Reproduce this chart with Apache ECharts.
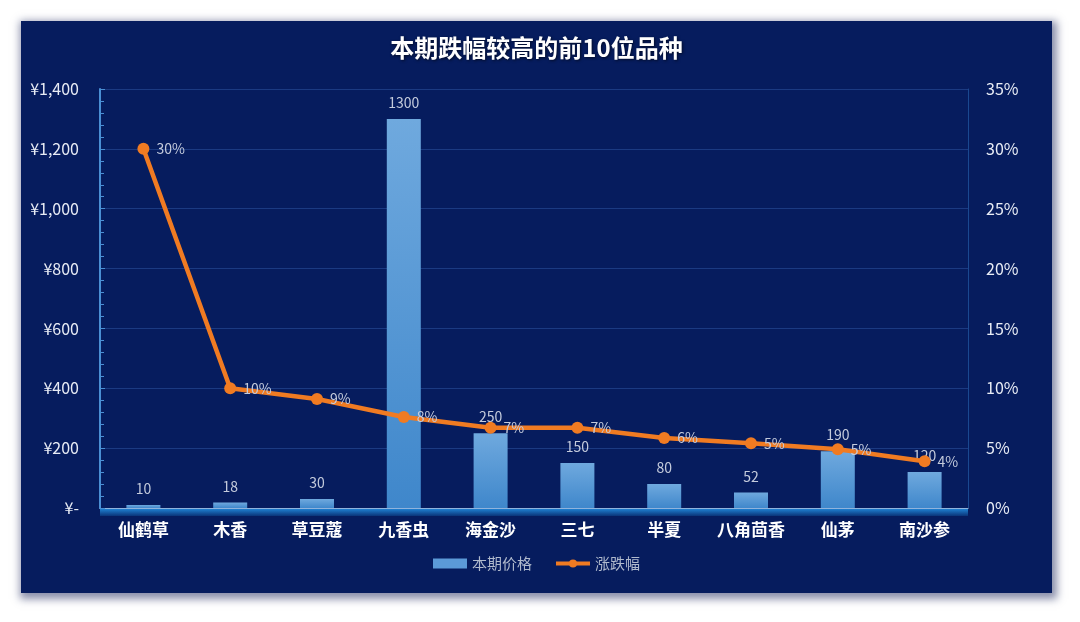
<!DOCTYPE html>
<html lang="zh">
<head>
<meta charset="utf-8">
<title>本期跌幅较高的前10位品种</title>
<script src="https://cdn.jsdelivr.net/npm/echarts@6/dist/echarts.min.js"></script>
<style>
  html, body { margin: 0; padding: 0; background: #ffffff; }
  #panel {
    position: absolute; left: 21px; top: 21px; width: 1031px; height: 572px;
    background: #061c5e;
    box-shadow: 2px 3px 8px 3px rgba(40, 50, 100, 0.55);
  }
  #chart { width: 100%; height: 100%; }
</style>
</head>
<body>
<div id="panel"><div id="chart"></div></div>
<script>
// 品种
var categories = ['仙鹤草', '木香', '草豆蔻', '九香虫', '海金沙', '三七', '半夏', '八角茴香', '仙茅', '南沙参'];
// 本期价格（元）
var prices = [10, 18, 30, 1300, 250, 150, 80, 52, 190, 120];
// 涨跌幅（%）
var changes = [30, 10, 9.1, 7.6, 6.7, 6.7, 5.85, 5.4, 4.9, 3.9];

var font = '"Noto Sans CJK SC", "Noto Sans", sans-serif';
var chart = echarts.init(document.getElementById('chart'));

var gridL = 79, gridR = 84, gridT = 68, gridB = 85;

chart.setOption({
  textStyle: { fontFamily: font },
  title: {
    text: '本期跌幅较高的前10位品种',
    left: 'center', top: 10,
    textStyle: {
      color: '#ffffff', fontSize: 24, fontWeight: 'bold', fontFamily: font,
      textShadowColor: 'rgba(0,0,0,0.6)', textShadowBlur: 3, textShadowOffsetX: 1, textShadowOffsetY: 1
    }
  },
  legend: {
    bottom: 17, left: 'center',
    itemWidth: 34, itemHeight: 10, itemGap: 22,
    textStyle: { color: '#b0bacd', fontSize: 15, fontFamily: font },
    data: [
      { name: '本期价格', icon: 'rect', itemStyle: { color: '#5b9ad8' } },
      { name: '涨跌幅', lineStyle: { width: 4 } }
    ]
  },
  grid: { left: gridL, right: gridR, top: gridT, bottom: gridB },
  xAxis: {
    type: 'category',
    data: categories,
    axisLine: { lineStyle: { color: '#8fb3dc', width: 1 } },
    axisTick: { show: false },
    axisLabel: { interval: 0, color: '#ffffff', fontSize: 17, fontWeight: 'bold', margin: 13, fontFamily: font }
  },
  yAxis: [
    {
      type: 'value', min: 0, max: 1400, interval: 200,
      axisLine: { show: true, lineStyle: { color: '#4a8fd4', width: 2 } },
      axisTick: { show: true, inside: true, length: 5, lineStyle: { color: '#4a8fd4' } },
      minorTick: { show: true, splitNumber: 5, length: 4, lineStyle: { color: '#4a8fd4' } },
      splitLine: { lineStyle: { color: '#1b3a82', width: 1 } },
      axisLabel: {
        color: '#e8ecf5', fontSize: 16, margin: 21, fontFamily: font,
        formatter: function (v) { return v === 0 ? '¥-' : '¥' + v.toLocaleString('en-US'); }
      }
    },
    {
      type: 'value', min: 0, max: 35, interval: 5,
      axisLine: { show: true, lineStyle: { color: '#1a4890', width: 1 } },
      axisTick: { show: false },
      splitLine: { show: false },
      axisLabel: { color: '#e8ecf5', fontSize: 16, margin: 18, fontFamily: font, formatter: '{value}%' }
    }
  ],
  graphic: [
    {
      type: 'rect',
      left: gridL, bottom: gridB - 8,
      shape: { width: 1031 - gridL - gridR, height: 7 },
      style: {
        fill: new echarts.graphic.LinearGradient(0, 0, 0, 1, [
          { offset: 0, color: '#1f7fd0' },
          { offset: 1, color: '#0a3478' }
        ])
      },
      z: 0
    }
  ],
  series: [
    {
      name: '本期价格',
      type: 'bar',
      data: prices,
      barWidth: 34,
      itemStyle: {
        color: new echarts.graphic.LinearGradient(0, 0, 0, 1, [
          { offset: 0, color: '#6fa9de' },
          { offset: 1, color: '#3f87cb' }
        ])
      },
      label: { show: true, position: 'top', distance: 9, color: '#c4cbdc', fontSize: 14, fontFamily: font }
    },
    {
      name: '涨跌幅',
      type: 'line',
      yAxisIndex: 1,
      data: changes,
      symbol: 'circle',
      symbolSize: 12,
      lineStyle: { color: '#f07b22', width: 4.5 },
      itemStyle: { color: '#f07b22' },
      label: {
        show: true, position: 'right', distance: 7, color: '#c4cbdc', fontSize: 14, fontFamily: font,
        formatter: function (p) { return Math.round(p.value) + '%'; }
      },
      z: 5
    }
  ]
});
</script>
</body>
</html>
